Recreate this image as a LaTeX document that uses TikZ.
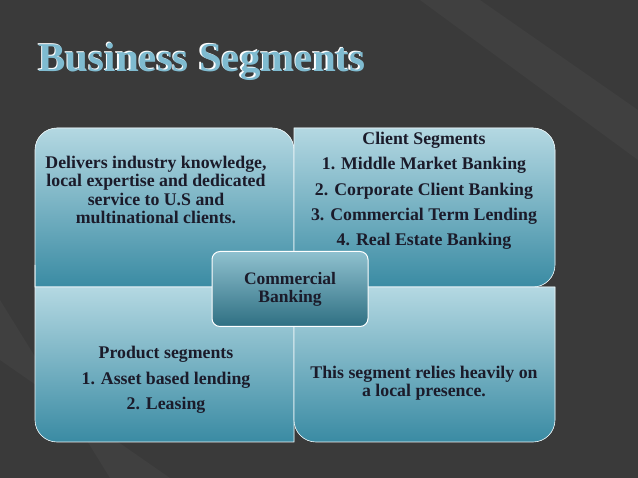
\documentclass[tikz,border=0pt]{standalone}
\usepackage{fontspec}
\setmainfont{Liberation Serif}
\definecolor{bgdark}{HTML}{3A3A3A}
\definecolor{bgstripe}{HTML}{404040}
\definecolor{qlight}{HTML}{B4D8E2}
\definecolor{qdark}{HTML}{3A8BA3}
\definecolor{titleblue}{HTML}{7FBBD0}
\definecolor{inktext}{HTML}{1B1B2A}
\tikzset{
  quad/.style={fill=qlight,top color=qlight,bottom color=qdark,draw=white!80!qlight,line width=0.6pt},
  qtext/.style={text=inktext,font=\fontsize{17.8}{18.2}\selectfont\bfseries,align=center},
  centerbox/.style={rounded corners=8pt,top color=qlight!70!qdark,bottom color=qdark!80!black,
    draw=white,line width=1pt,minimum width=156pt,minimum height=75pt}
}
\begin{document}
\begin{tikzpicture}[x=1pt,y=-1pt]
\useasboundingbox (0,0) rectangle (638,478);
\fill[bgdark] (0,0) rectangle (638,478);
% background stripes
\fill[bgstripe] (420,0) -- (480,0) -- (638,110) -- (638,160) -- cycle;
\fill[bgstripe] (0,300) -- (0,360) -- (170,478) -- (110,478) -- cycle;
\node[anchor=west,text=white,font=\fontsize{41}{41}\selectfont\bfseries] at (33.5,60.5) {Business Segments};
\node[anchor=west,text=titleblue,font=\fontsize{41}{41}\selectfont\bfseries] (title) at (35,62) {Business Segments};
% quadrants
\draw[quad] (35,287) -- (35,150) [rounded corners=22pt] -- (35,128) -- (294,128) [sharp corners] -- (294,287) -- cycle;
\draw[quad] (294,287) -- (294,128) [rounded corners=22pt] -- (555,128) -- (555,287) [sharp corners] -- cycle;
\draw[quad] (35,287) -- (294,287) -- (294,442) [rounded corners=22pt] -- (35,442) -- (35,287) [sharp corners] -- cycle;
\draw[quad] (294,287) -- (555,287) [rounded corners=22pt] -- (555,442) -- (294,442) [sharp corners] -- cycle;
\node[qtext] (tl) at (156,190) {Delivers industry knowledge,\\local expertise and dedicated\\service to U.S and\\multinational clients.};
\node[qtext,font=\fontsize{17.8}{25.3}\selectfont\bfseries] (tr) at (424,191) {Client Segments\\1. Middle Market Banking\\2. Corporate Client Banking\\3. Commercial Term Lending\\4. Real Estate Banking};
\node[qtext,font=\fontsize{17.8}{25.3}\selectfont\bfseries] (bl) at (166,380) {Product segments\\1. Asset based lending\\2. Leasing};
\node[qtext] (br) at (424,383) {This segment relies heavily on\\a local presence.};
\node[centerbox,qtext,font=\fontsize{17.5}{18}\selectfont\bfseries] (center) at (290,289) {Commercial\\Banking};
\end{tikzpicture}
\end{document}
